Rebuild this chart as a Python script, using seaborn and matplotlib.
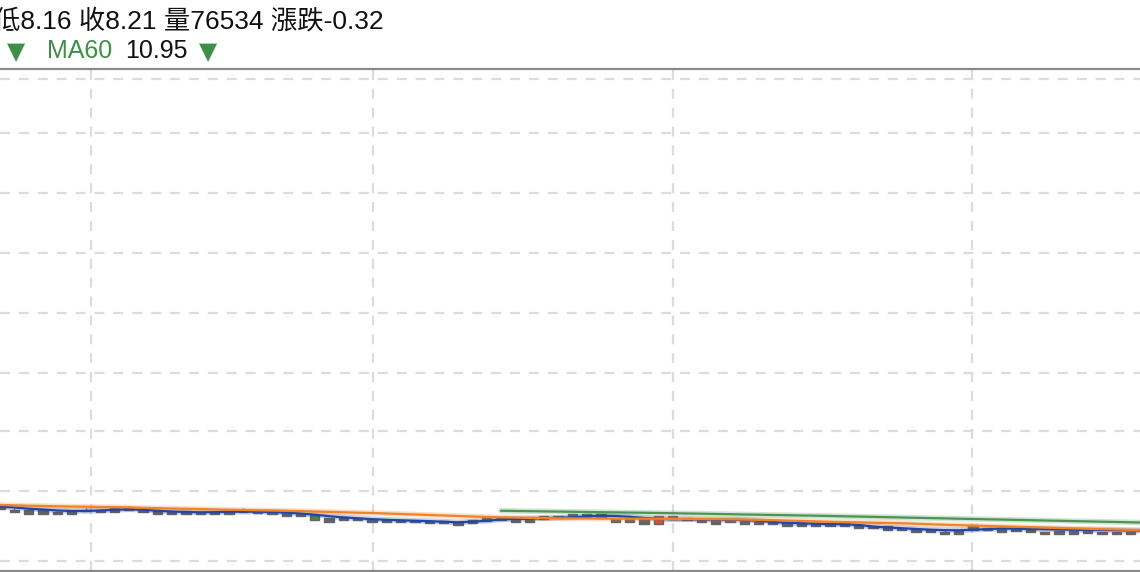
import numpy as np
import pandas as pd
import seaborn as sns
import matplotlib.pyplot as plt

# K線資料 (由圖讀出, 每根 K 線一個值)
opens = [15.09, 14.09, 14.09, 14.09, 13.59, 13.84, 14.21, 14.09, 14.59, 14.59,
         14.34, 14.09, 13.59, 13.84, 13.59, 13.59, 13.84, 13.96, 13.84, 13.84,
         13.59, 13.09, 11.59, 12.09, 12.34, 12.09, 11.84, 11.59, 11.59, 11.46,
         11.34, 11.34, 11.09, 11.59, 12.09, 12.09, 11.84, 11.84, 12.59, 12.59,
         13.09, 13.09, 13.09, 11.84, 11.84, 11.84, 10.59, 12.59, 12.09, 11.59,
         11.59, 11.59, 11.34, 11.09, 11.09, 10.84, 10.84, 10.84, 10.84, 10.84,
         10.46, 9.96, 10.09, 9.46, 9.46, 9.09, 8.59, 8.84, 10.46, 9.59,
         9.46, 9.34, 9.34, 8.71, 8.84, 8.84, 8.84, 8.71, 8.71, 8.71]
closes = [14.34, 13.59, 13.09, 13.09, 13.09, 13.09, 13.96, 13.59, 13.59, 14.21,
          13.59, 13.09, 13.09, 13.09, 13.09, 13.09, 13.09, 13.59, 13.46, 13.09,
          12.59, 12.59, 12.84, 11.09, 11.59, 11.59, 11.09, 11.09, 11.09, 11.09,
          10.84, 10.84, 10.34, 10.84, 11.34, 11.59, 11.09, 11.09, 11.84, 12.09,
          12.34, 12.34, 12.09, 11.09, 11.09, 10.59, 12.59, 11.84, 11.71, 11.09,
          10.59, 11.09, 10.59, 10.59, 10.59, 10.21, 10.09, 10.09, 10.09, 10.09,
          9.59, 9.59, 9.09, 9.09, 8.59, 8.59, 8.09, 8.09, 9.21, 9.09,
          8.59, 8.96, 8.59, 8.21, 8.09, 8.09, 8.46, 8.09, 8.09, 8.21]
highs = [15.09, 14.59, 14.09, 14.09, 13.96, 13.84, 14.59, 14.09, 14.59, 15.09,
         14.34, 14.09, 13.59, 13.84, 13.59, 13.59, 13.84, 14.59, 13.84, 13.84,
         13.59, 13.09, 12.84, 12.09, 12.34, 12.09, 11.84, 11.59, 11.59, 11.46,
         11.34, 11.34, 11.09, 11.59, 12.09, 12.09, 11.84, 11.84, 12.59, 12.59,
         13.09, 13.09, 13.09, 11.84, 11.84, 11.84, 12.59, 12.59, 12.09, 11.59,
         11.59, 11.59, 11.34, 11.09, 11.09, 10.84, 10.84, 10.84, 10.84, 10.84,
         10.46, 9.96, 10.09, 9.46, 9.46, 9.09, 9.09, 8.84, 10.46, 9.59,
         9.46, 9.34, 9.34, 8.71, 8.84, 8.84, 8.84, 8.71, 8.71, 8.71]
lows = [14.34, 13.59, 13.09, 13.09, 13.09, 13.09, 13.84, 13.59, 13.59, 14.21,
        13.59, 13.09, 13.09, 13.09, 13.09, 13.09, 13.09, 13.59, 13.46, 13.09,
        12.59, 12.59, 11.59, 11.09, 11.59, 11.59, 11.09, 11.09, 11.09, 11.09,
        10.84, 10.84, 10.34, 10.84, 11.34, 11.59, 11.09, 11.09, 11.84, 12.09,
        12.34, 12.34, 12.09, 11.09, 11.09, 10.59, 10.59, 11.84, 11.71, 11.09,
        10.59, 11.09, 10.59, 10.59, 10.59, 10.21, 10.09, 10.09, 10.09, 10.09,
        9.59, 9.59, 9.09, 9.09, 8.59, 8.59, 8.09, 8.09, 9.21, 9.09,
        8.59, 8.96, 8.59, 8.21, 8.09, 8.09, 8.46, 8.09, 8.09, 8.16]

# 均線 (MA5 藍, MA20 橙, MA60 綠)
ma_blue = [14.91, 14.71, 14.41, 14.21, 13.96, 13.84, 13.84, 13.96, 14.14, 14.26,
           14.14, 13.89, 13.71, 13.59, 13.51, 13.54, 13.64, 13.66, 13.66, 13.59,
           13.41, 13.21, 12.91, 12.54, 12.24, 12.01, 11.79, 11.64, 11.51, 11.41,
           11.29, 11.16, 11.01, 11.16, 11.39, 11.71, 11.84, 11.91, 12.01, 12.14,
           12.26, 12.51, 12.66, 12.59, 12.39, 12.09, 11.89, 11.76, 11.76, 11.71,
           11.66, 11.64, 11.59, 11.39, 11.09, 10.89, 10.76, 10.64, 10.54, 10.51,
           10.34, 9.96, 9.71, 9.54, 9.34, 9.16, 9.04, 9.01, 9.16, 9.29,
           9.46, 9.41, 9.34, 9.26, 9.21, 9.14, 9.09, 9.09, 9.04, 8.96, 8.91]
ma_orange = [15.34, 15.26, 15.16, 15.09, 15.01, 14.94, 14.89, 14.84, 14.79, 14.74,
             14.61, 14.54, 14.46, 14.39, 14.31, 14.24, 14.16, 14.09, 14.01, 13.94,
             13.89, 13.81, 13.71, 13.61, 13.51, 13.41, 13.34, 13.21, 13.09, 12.96,
             12.84, 12.71, 12.59, 12.46, 12.34, 12.26, 12.19, 12.11, 12.06, 12.01,
             11.99, 11.96, 11.94, 11.91, 11.91, 11.91, 11.89, 11.86, 11.84, 11.81,
             11.79, 11.74, 11.69, 11.61, 11.54, 11.44, 11.34, 11.24, 11.14, 11.06,
             10.99, 10.89, 10.84, 10.76, 10.64, 10.51, 10.39, 10.29, 10.19, 10.09,
             9.99, 9.89, 9.79, 9.69, 9.59, 9.49, 9.39, 9.29, 9.21, 9.11, 9.01]
ma60_start = 35
ma_green = [13.89, 13.84, 13.79, 13.74, 13.69, 13.64, 13.59, 13.54, 13.49, 13.44,
            13.39, 13.34, 13.29, 13.21, 13.16, 13.09, 13.04, 12.96, 12.91, 12.84,
            12.79, 12.71, 12.66, 12.59, 12.51, 12.44, 12.36, 12.29, 12.21, 12.14,
            12.06, 11.99, 11.91, 11.84, 11.76, 11.69, 11.61, 11.54, 11.46, 11.39,
            11.31, 11.24, 11.16, 11.09, 11.01, 10.94]

# 特殊顏色的 K 線
body_colors = {22: '#3f8f48', 46: '#e04a3a'}

grid_y = [121.8, 108.3, 93.3, 78.3, 63.3, 48.3, 33.8, 18.8, 1.3]
grid_x = [6.36, 26.07, 47.03, 67.92]

sns.set_theme(style='white')
plt.rcParams['font.family'] = ['Liberation Sans', 'Noto Sans CJK TC', 'DejaVu Sans']

fig = plt.figure(figsize=(11.4, 5.72), dpi=100)
ax = fig.add_axes([0, 1 / 572, 1, 502 / 572])

idx = np.arange(len(opens))
o = np.array(opens)
c = np.array(closes)
bottom = np.minimum(o, c)
height = np.maximum(np.abs(o - c), 0.15)
faces = [body_colors.get(i, '#646464') for i in idx]

ax.vlines(idx, lows, highs, color='#646464', linewidth=1, zorder=2)
ax.bar(idx, height, bottom=bottom, width=0.65, color=faces,
       edgecolor='#646464', linewidth=1, zorder=3)

df_blue = pd.DataFrame({'i': np.arange(len(ma_blue)), 'v': ma_blue})
df_orange = pd.DataFrame({'i': np.arange(len(ma_orange)), 'v': ma_orange})
df_green = pd.DataFrame({'i': np.arange(ma60_start, ma60_start + len(ma_green)), 'v': ma_green})

for d, col in [(df_blue, '#2446a3'), (df_orange, '#f08228'), (df_green, '#4a9454')]:
    sns.lineplot(data=d, x='i', y='v', ax=ax, color=col, linewidth=4, alpha=0.25, zorder=4)
    sns.lineplot(data=d, x='i', y='v', ax=ax, color=col, linewidth=1.6, zorder=5)

ax.set_xlim(0, 79.66)
ax.set_ylim(-1.165, 124.335)
ax.set_yticks(grid_y)
ax.set_xticks(grid_x)
ax.grid(True, color='#dcdcdc', linewidth=1.6, linestyle=(0, (4.5, 4)))
ax.set_axisbelow(True)
ax.tick_params(left=False, bottom=False, labelleft=False, labelbottom=False)
ax.set_xlabel('')
ax.set_ylabel('')
for s in ['left', 'right']:
    ax.spines[s].set_visible(False)
for s in ['top', 'bottom']:
    ax.spines[s].set_color('#8a8a8a')
    ax.spines[s].set_linewidth(1.6)

W, H = 1140, 572
tri_font = ['DejaVu Sans']
fig.text(-6 / W, 1 - 28 / H, '低8.16 收8.21 量76534 漲跌-0.32', fontsize=19, color='#111111', va='baseline')
fig.text(7 / W, 1 - 59.5 / H, '▼', fontsize=17, color='#3f8f48', va='baseline', family=tri_font)
fig.text(47 / W, 1 - 58 / H, 'MA60', fontsize=18, color='#3f8f48', va='baseline')
fig.text(125 / W, 1 - 58 / H, '10.95', fontsize=18, color='#111111', va='baseline')
fig.text(199 / W, 1 - 59.5 / H, '▼', fontsize=17, color='#3f8f48', va='baseline', family=tri_font)

fig.savefig('out.png', dpi=100)
